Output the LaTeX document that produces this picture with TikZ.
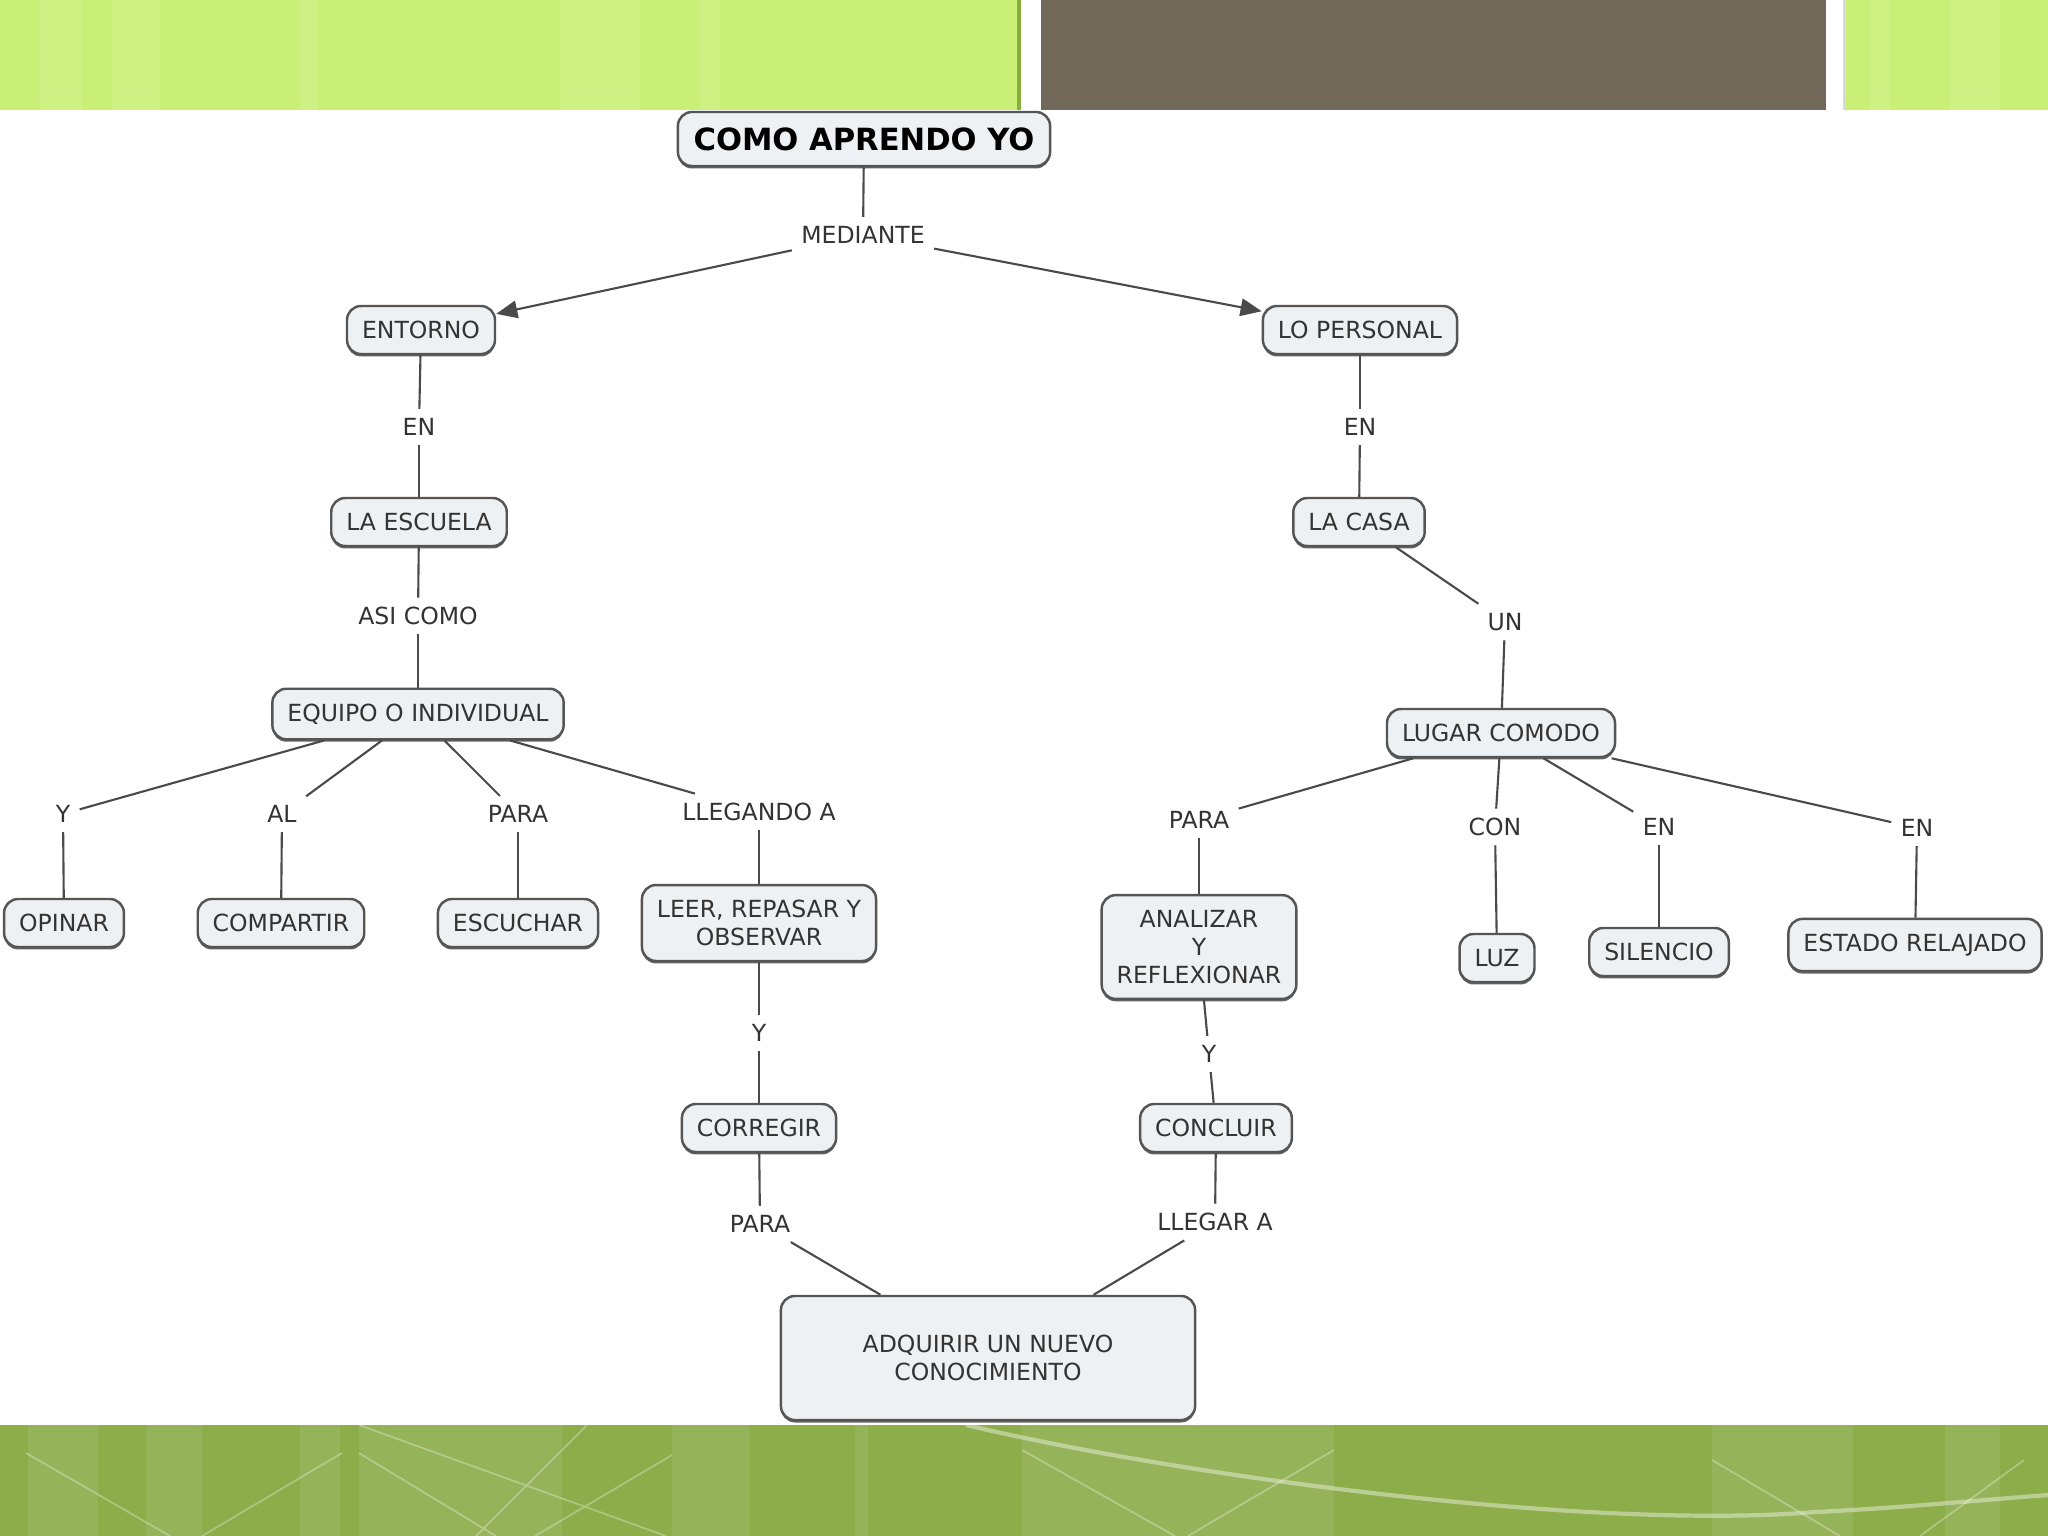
\documentclass[tikz,border=0pt]{standalone}
\usepackage{fontspec}
\setmainfont{DejaVu Sans}
\usepackage{xcolor}
\usepackage{tikz}
\usetikzlibrary{positioning,arrows.meta,shadows}
\definecolor{mLine}{HTML}{4A4A4A}
\definecolor{mText}{HTML}{333333}
\definecolor{mBoxFill}{HTML}{EEF1F3}
\definecolor{mBoxDraw}{HTML}{555555}
\definecolor{mTopGreen}{HTML}{CAEF76}
\definecolor{mBotGreen}{HTML}{8CAD4A}
\definecolor{mBrown}{HTML}{72685A}
\definecolor{mEdgeGreen}{HTML}{86AE3C}

\begin{document}
\begin{tikzpicture}[x=0.01cm, y=-0.01cm, font=\fontsize{6.7}{8}\selectfont, text=mText,
  concepto/.style={draw=mBoxDraw, line width=0.7pt, fill=mBoxFill, rounded corners=4pt, minimum height=0.48cm, inner xsep=0.15cm, inner ysep=0.15cm, align=center, drop shadow={shadow xshift=0pt, shadow yshift=-0.7pt, fill=black!60, opacity=1}},
  enlace/.style={inner sep=2.5pt},
  conn/.style={draw=mLine, line width=0.6pt},
  flecha/.style={conn, -{Triangle[length=6pt, width=5pt]}}]
\useasboundingbox (0,0) rectangle (2048,1536);
\fill[white] (0,0) rectangle (2048,1536);
% slide banners
\fill[mTopGreen] (0,0) rectangle (1019,110);
\fill[mEdgeGreen] (1017,0) rectangle (1021,110);
\fill[mBrown] (1041,0) rectangle (1826,110);
\fill[mTopGreen] (1843,0) rectangle (2048,110);
\fill[black!15] (1843,0) rectangle (1846,110);
\foreach \a/\b in {40/82, 112/160, 300/318, 560/640, 700/720, 1870/1890, 1950/2000}
  \fill[white, opacity=0.1] (\a,0) rectangle (\b,110);
\fill[mBotGreen] (0,1425) rectangle (2048,1536);
\foreach \a/\b in {28/98, 146/202, 300/340, 359/562, 672/750, 855/868, 1022/1334, 1712/1853, 1945/2000}
  \fill[white, opacity=0.08] (\a,1425) rectangle (\b,1536);
\draw[white, opacity=0.3, line width=0.5pt] (26,1453) -- (170,1536) (342,1453) -- (202,1536)
  (359,1425) -- (666,1536) (587,1425) -- (476,1536) (359,1453) -- (496,1536) (672,1455) -- (535,1536)
  (1022,1450) -- (1175,1536) (1334,1450) -- (1188,1536) (1712,1460) -- (1840,1536) (2024,1460) -- (1920,1536);
\draw[white, opacity=0.4, line width=1.2pt] (966,1425) .. controls (1200,1480) and (1600,1530) .. (1815,1512) .. controls (1900,1508) and (1980,1500) .. (2048,1495);

% concepts and linking words
\node[concepto, font=\bfseries\fontsize{8.7}{10}\selectfont, text=black, minimum width=3.72cm, minimum height=0.54cm] (raiz) at (864,139) {COMO APRENDO YO};
\node[enlace] (mediante) at (863,235) {MEDIANTE};
\node[concepto] (entorno) at (421,330) {ENTORNO};
\node[concepto] (personal) at (1360,330) {LO PERSONAL};
\node[enlace] (en1) at (419,427) {EN};
\node[concepto] (escuela) at (419,522) {LA ESCUELA};
\node[enlace] (asicomo) at (418,616) {ASI COMO};
\node[concepto] (equipo) at (418,714) {EQUIPO O INDIVIDUAL};
\node[enlace] (en2) at (1360,427) {EN};
\node[concepto] (casa) at (1359,522) {LA CASA};
\node[enlace] (un) at (1505,622) {UN};
\node[concepto] (lugar) at (1501,733) {LUGAR COMODO};
\node[enlace] (y1) at (63,814) {Y};
\node[enlace] (al) at (282,814) {AL};
\node[enlace] (para1) at (518,814) {PARA};
\node[enlace] (llegando) at (759,812) {LLEGANDO A};
\node[concepto] (opinar) at (64,923) {OPINAR};
\node[concepto] (compartir) at (281,923) {COMPARTIR};
\node[concepto] (escuchar) at (518,923) {ESCUCHAR};
\node[concepto] (leer) at (759,923) {LEER, REPASAR Y\\OBSERVAR};
\node[enlace] (y2) at (759,1033) {Y};
\node[concepto] (corregir) at (759,1128) {CORREGIR};
\node[enlace] (para2) at (760,1224) {PARA};
\node[concepto, minimum width=4.14cm, minimum height=1.24cm] (adquirir) at (988,1358) {ADQUIRIR UN NUEVO\\CONOCIMIENTO};
\node[enlace] (para3) at (1199,820) {PARA};
\node[enlace] (con) at (1495,827) {CON};
\node[enlace] (en3) at (1659,827) {EN};
\node[enlace] (en4) at (1917,828) {EN};
\node[concepto] (analizar) at (1199,947) {ANALIZAR\\Y\\REFLEXIONAR};
\node[concepto] (luz) at (1497,958) {LUZ};
\node[concepto] (silencio) at (1659,952) {SILENCIO};
\node[concepto] (relajado) at (1915,945) {ESTADO RELAJADO};
\node[enlace] (y3) at (1209,1054) {Y};
\node[concepto] (concluir) at (1216,1128) {CONCLUIR};
\node[enlace] (llegar) at (1215,1222) {LLEGAR A};

% links
\draw[conn] (raiz) -- (mediante);
\draw[flecha] (mediante) -- (entorno);
\draw[flecha] (mediante) -- (personal);
\draw[conn] (entorno) -- (en1);
\draw[conn] (en1) -- (escuela);
\draw[conn] (escuela) -- (asicomo);
\draw[conn] (asicomo) -- (equipo);
\draw[conn] (equipo) -- (y1);
\draw[conn] (equipo) -- (al);
\draw[conn] (equipo) -- (para1);
\draw[conn] (equipo) -- (llegando);
\draw[conn] (y1) -- (opinar);
\draw[conn] (al) -- (compartir);
\draw[conn] (para1) -- (escuchar);
\draw[conn] (llegando) -- (leer);
\draw[conn] (leer) -- (y2);
\draw[conn] (y2) -- (corregir);
\draw[conn] (corregir) -- (para2);
\draw[conn] (para2) -- (adquirir);
\draw[conn] (personal) -- (en2);
\draw[conn] (en2) -- (casa);
\draw[conn] (casa) -- (un);
\draw[conn] (un) -- (lugar);
\draw[conn] (lugar) -- (para3);
\draw[conn] (lugar) -- (con);
\draw[conn] (lugar) -- (en3);
\draw[conn] (lugar) -- (en4);
\draw[conn] (para3) -- (analizar);
\draw[conn] (con) -- (luz);
\draw[conn] (en3) -- (silencio);
\draw[conn] (en4) -- (relajado);
\draw[conn] (analizar) -- (y3);
\draw[conn] (y3) -- (concluir);
\draw[conn] (concluir) -- (llegar);
\draw[conn] (llegar) -- (adquirir);
\end{tikzpicture}
\end{document}
